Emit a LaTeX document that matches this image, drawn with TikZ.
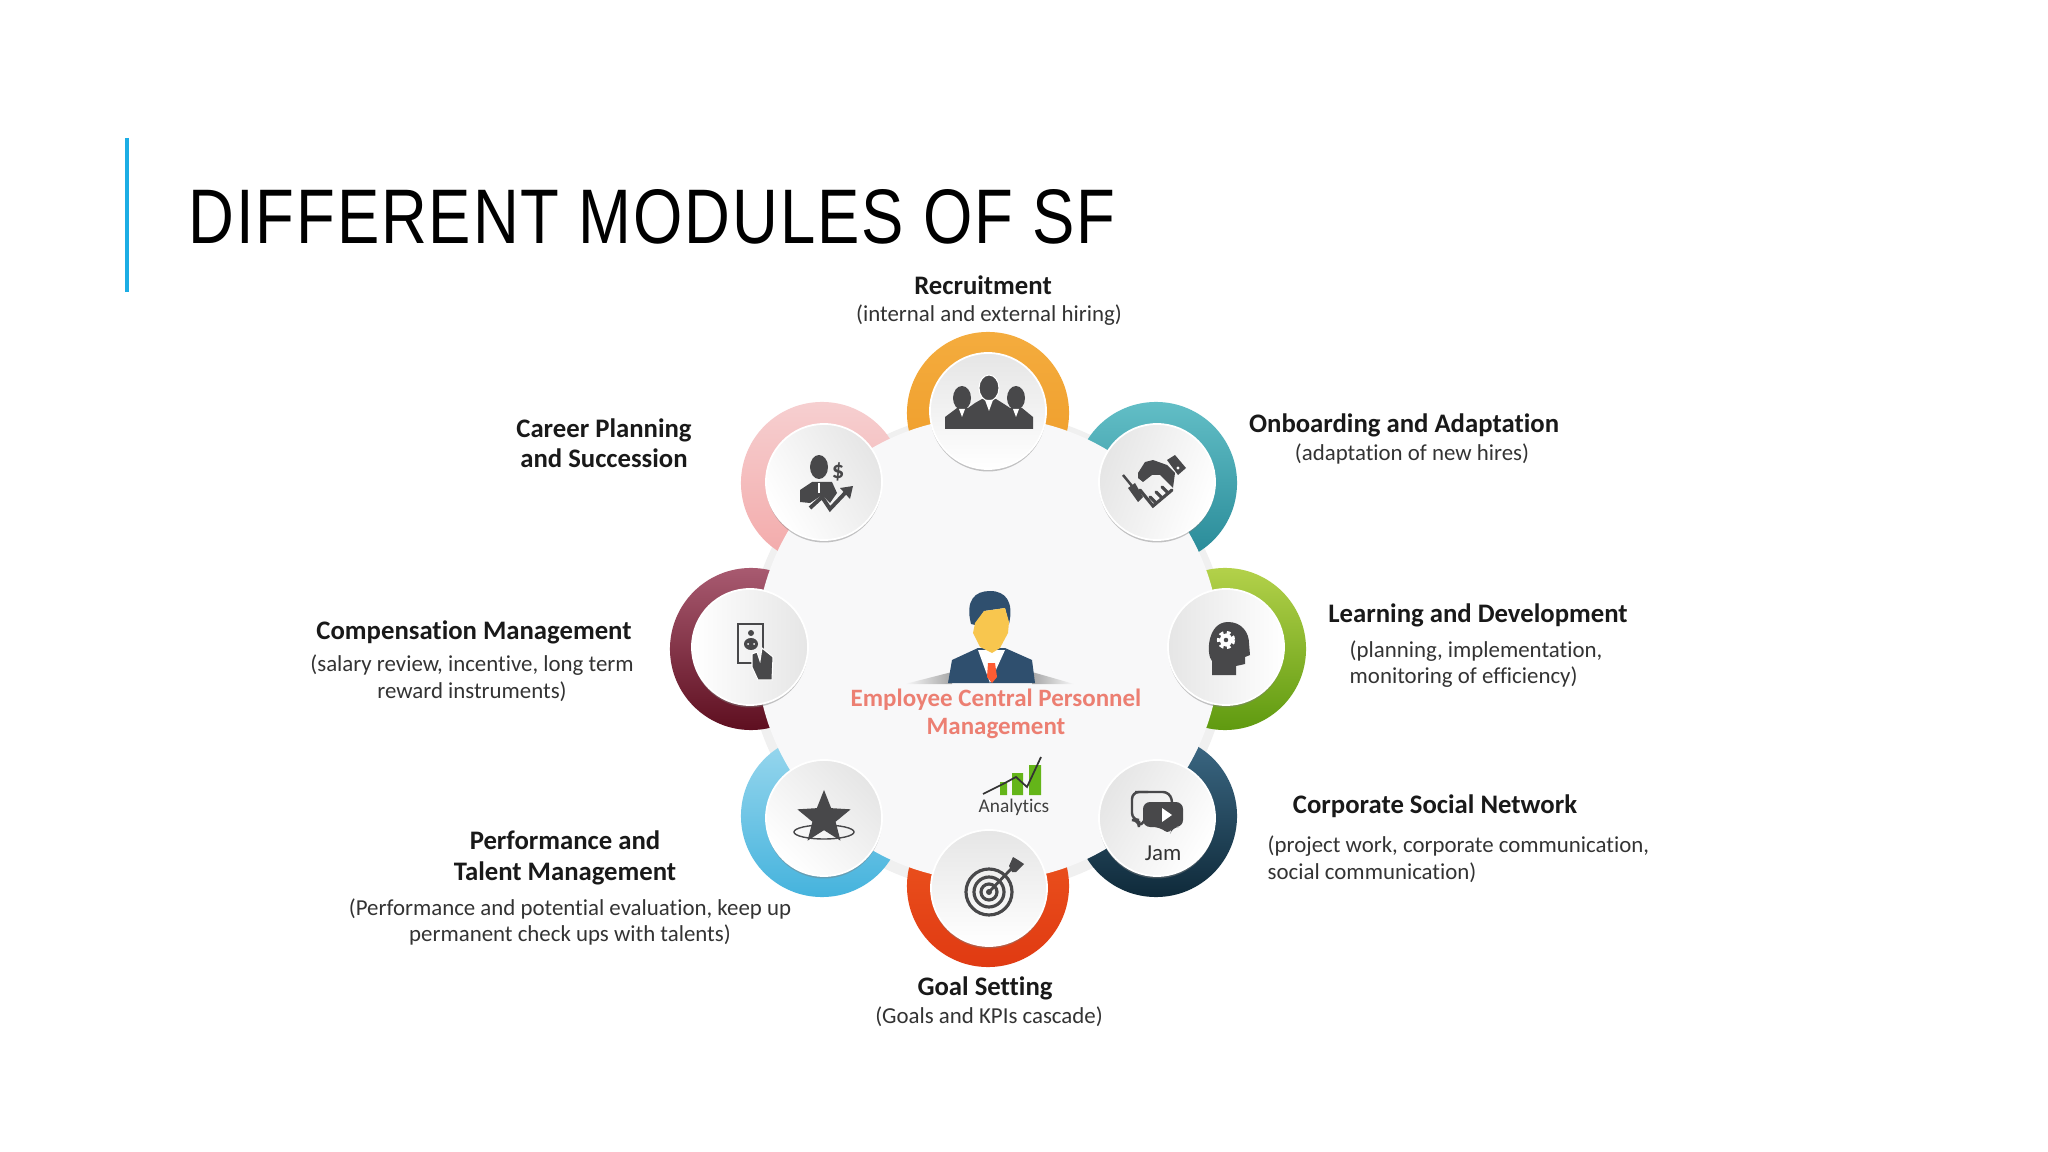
\documentclass[tikz,border=0pt]{standalone}
\usepackage{fontspec}
\usepackage{xcolor}
\usetikzlibrary{shapes,shadows}
\setmainfont[RawFeature={-liga}]{Carlito}
\newfontfamily\titlefont[FakeStretch=0.82,LetterSpace=2.4]{Liberation Sans}
\definecolor{icondark}{HTML}{48484A}
\definecolor{discfill}{HTML}{F8F8F9}
\definecolor{suitblue}{HTML}{2F4F6E}
\definecolor{barblue}{HTML}{1CADE4}
\definecolor{salmon}{HTML}{EC7F72}
\definecolor{skinyellow}{HTML}{F8C64E}
\tikzset{
  ring/.style={circle,minimum size=1.62cm,inner sep=0pt},
  badge/.style={circle,minimum size=1.16cm,inner sep=0pt,draw=white,line width=0.5pt,
    top color=gray!20,bottom color=white,shading angle=#1,
    drop shadow={shadow xshift=0pt,shadow yshift=-0.7pt,opacity=0.45}},
  icon/.style={fill=icondark,draw=none},
  headtext/.style={font=\bfseries\fontsize{7.6}{8.6}\selectfont,align=center,inner sep=0pt,text=black!90},
  subtext/.style={font=\fontsize{6.5}{7.6}\selectfont,align=center,inner sep=0pt,text=black!80},
  lefttext/.style={subtext,align=left,anchor=west}
}
\begin{document}
\begin{tikzpicture}[x=0.01cm,y=-0.01cm]
\useasboundingbox (0,0) rectangle (2048,1152);
% title
\draw[barblue,line width=1pt] (127,138)--(127,292);
\node (title) [anchor=west,inner sep=0pt,font=\titlefont\fontsize{22}{26}\selectfont] at (188,217) {DIFFERENT MODULES OF SF};
% halo and rings
\fill[gray!12] (988,652) circle (240);
\node (ringrecruit) [ring,top color={rgb,255:red,244;green,172;blue,62},bottom color={rgb,255:red,238;green,154;blue,38}] at (988,413) {};
\node (ringonboard) [ring,top color={rgb,255:red,98;green,190;blue,198},bottom color={rgb,255:red,38;green,136;blue,150}] at (1156,483) {};
\node (ringlearn) [ring,top color={rgb,255:red,179;green,209;blue,74},bottom color={rgb,255:red,95;green,154;blue,16}] at (1225,649) {};
\node (ringsocial) [ring,top color={rgb,255:red,61;green,106;blue,134},bottom color={rgb,255:red,15;green,42;blue,58}] at (1156,816) {};
\node (ringgoal) [ring,top color={rgb,255:red,238;green,90;blue,34},bottom color={rgb,255:red,224;green,58;blue,18}] at (988,886) {};
\node (ringtalent) [ring,top color={rgb,255:red,155;green,216;blue,238},bottom color={rgb,255:red,69;green,179;blue,221}] at (822,816) {};
\node (ringpay) [ring,top color={rgb,255:red,168;green,90;blue,112},bottom color={rgb,255:red,94;green,15;blue,32}] at (751,649) {};
\node (ringcareer) [ring,top color={rgb,255:red,246;green,207;blue,208},bottom color={rgb,255:red,243;green,169;blue,169}] at (822,483) {};
% central disc
\fill[discfill] (988,649) circle (232);
\node (badgerecruit) [badge=0] at (988,411) {};
\node (badgeonboard) [badge=70] at (1157,482) {};
\node (badgelearn) [badge=90] at (1226,647) {};
\node (badgesocial) [badge=60] at (1157,818) {};
\node (badgegoal) [badge=0] at (989,888) {};
\node (badgetalent) [badge=-45] at (824,818) {};
\node (badgepay) [badge=-90] at (750,647) {};
\node (badgecareer) [badge=-60] at (824,482) {};
% recruitment icon
\fill[icon] (945,429)--(945,417)--(957,408)--(968,408)--(975,403)--(982,399)--(996,399)--(1004,404)--(1010,408)--(1022,408)--(1033,417)--(1033,429)--cycle;
\fill[icon] (962,398) ellipse (9 and 12);
\fill[icon] (1016,398) ellipse (9 and 12);
\fill[icon,draw=white,line width=0.3pt] (989,388) ellipse (10 and 13);
\fill[white] (985,400)--(989,411)--(993,400)--cycle (959,409)--(962,417)--(965,409)--cycle (1013,409)--(1016,417)--(1019,409)--cycle;
% onboarding icon
\fill[icon] (1138,473)--(1145,462)--(1153,460)--(1167,465)--(1175,473)--(1173,488)--(1160,475)--(1152,475)--(1143,482)--(1138,478)--cycle;
\fill[icon] (1167,460)--(1175,455)--(1186,468)--(1178,475)--cycle;
\fill[white] (1178,468) circle (1.6);
\fill[icon] (1128,488)--(1135,483)--(1143,497)--(1138,502)--cycle;
\draw[icondark,line width=0.7pt] (1123,475)--(1132,486);
\draw[icondark,line width=0.9pt,line cap=round] (1140,490)--(1153,506)--(1172,490);
\draw[icondark,line width=0.9pt,line cap=round] (1150,497)--(1156,503) (1156,492)--(1162,498) (1162,487)--(1168,493);
% learning icon
\fill[icon] (1228,622) .. controls (1242,622) and (1249,633) .. (1249,643)--(1250,655)--(1245,657)--(1245,664)--(1236,666)--(1236,675)--(1212,675)--(1212,661) .. controls (1206,655) and (1207,622) .. (1228,622)--cycle;
\draw[white,line width=1.2pt,dash pattern=on 1pt off 0.9pt] (1226,640) circle (7);
\draw[white,line width=1.1pt] (1226,640) circle (4.5);
% jam icon
\draw[icondark,line width=0.7pt,rounded corners=2pt] (1148,792)--(1132,792)--(1132,820)--(1139,820)--(1139,828)--(1146,818);
\draw[icondark,line width=0.7pt,rounded corners=2pt] (1135,792)--(1170,792)--(1172,802);
\fill[icon,rounded corners=2pt] (1143,802)--(1183,802)--(1183,827)--(1172,827)--(1170,835)--(1160,827)--(1143,827)--cycle;
\fill[white] (1162,808)--(1172,815)--(1162,822)--cycle;
\node (jamtext) [font=\fontsize{6.5}{8}\selectfont,inner sep=0pt,text=black!80] at (1163,853) {Jam};
% goal icon
\draw[icondark,line width=0.9pt] (989,892) circle (23);
\draw[icondark,line width=0.9pt] (989,892) circle (15);
\draw[icondark,line width=0.9pt] (989,892) circle (8);
\fill[icon] (989,892) circle (3);
\draw[icondark,line width=0.8pt] (989,892)--(1012,868);
\fill[icon] (1009,866)--(1013,857)--(1018,860)--(1024,864)--(1016,872)--(1012,872)--cycle;
% talent icon
\draw[icondark,line width=0.4pt] (824,832) ellipse (30 and 7);
\node (startalent) [star,star points=5,star point ratio=2.3,fill=icondark,inner sep=0pt,minimum size=0.56cm] at (824,818) {};
% pay icon
\draw[icondark,line width=0.8pt] (738,624) rectangle (763,663);
\fill[icon] (751,633) circle (3);
\fill[icon] (751,644) ellipse (7 and 6);
\fill[white] (748,644) circle (1) (754,644) circle (1);
\fill[icon,draw=white,line width=0.3pt] (752,654)--(757,652)--(760,661)--(762,648)--(773,657)--(772,680)--(758,680)--(752,667)--cycle;
% career icon
\fill[icon] (819,467) ellipse (9 and 12);
\fill[icon] (800,502)--(800,490)--(812,482)--(832,482)--(837,493)--(830,503)--(822,495)--(810,503)--cycle;
\draw[white,line width=0.4pt] (819,483)--(819,493);
\draw[icondark,line width=1.1pt] (810,508)--(822,497)--(830,509)--(847,491);
\fill[icon] (853,486)--(840,488)--(850,499)--cycle;
\node (dollarmark) [font=\bfseries\fontsize{7}{8}\selectfont,inner sep=0pt,text=icondark] at (838,472) {\$};
% person in the middle
\shade[left color=discfill,right color=gray!70] (905,684)--(952,672)--(952,684)--cycle;
\shade[left color=gray!70,right color=discfill] (1032,672)--(1074,684)--(1032,684)--cycle;
\fill[suitblue] (948,683)--(952,660)--(978,648)--(1005,648)--(1032,660)--(1035,683)--cycle;
\fill[white] (978,650)--(990,683)--(1005,650)--cycle;
\fill[red!60!orange!80] (988,663)--(995,663)--(997,677)--(992,683)--(987,677)--cycle;
\fill[suitblue] (971,624) .. controls (965,600) and (975,591) .. (990,591) .. controls (1006,591) and (1014,602) .. (1009,624)--(1005,608)--(984,611)--(975,625)--cycle;
\fill[skinyellow] (975,623)--(984,611)--(1005,608)--(1009,622)--(1008,633)--(1000,648)--(992,653)--(980,647)--(973,633)--cycle;
% analytics
\fill[green!35!olive!90] (1000,782) rectangle (1007,795) (1012,773) rectangle (1023,795) (1029,765) rectangle (1041,795);
\draw[black!80,line width=0.5pt] (983,794)--(1003,784)--(1016,777)--(1027,787)--(1041,757);
\node (analyticstext) [font=\fontsize{5.5}{7}\selectfont,inner sep=0pt,text=black!75] at (1014,807) {Analytics};
% labels
\node (centertext) [font=\bfseries\fontsize{7.1}{8}\selectfont,align=center,inner sep=0pt,text=salmon] at (996,714) {Employee Central Personnel\\Management};
\node (recruitname) [headtext] at (983,285) {Recruitment};
\node (recruitnote) [subtext] at (989,315) {(internal and external hiring)};
\node (onboardname) [headtext] at (1404,425) {Onboarding and Adaptation};
\node (onboardnote) [subtext] at (1412,454) {(adaptation of new hires)};
\node (learnname) [headtext] at (1478,615) {Learning and Development};
\node (learnnote) [lefttext] at (1349,664) {(planning, implementation,\\monitoring of efficiency)};
\node (socialname) [headtext] at (1435,806) {Corporate Social Network};
\node (socialnote) [lefttext] at (1267,859) {(project work, corporate communication,\\social communication)};
\node (goalname) [headtext] at (985,988) {Goal Setting};
\node (goalnote) [subtext] at (989,1017) {(Goals and KPIs cascade)};
\node (talentname) [headtext] at (565,858) {Performance and\\Talent Management};
\node (talentnote) [subtext] at (570,922) {(Performance and potential evaluation, keep up\\permanent check ups with talents)};
\node (payname) [headtext] at (474,632) {Compensation Management};
\node (paynote) [subtext] at (472,678) {(salary review, incentive, long term\\reward instruments)};
\node (careername) [headtext] at (604,443) {Career Planning\\and Succession};
\end{tikzpicture}
\end{document}
